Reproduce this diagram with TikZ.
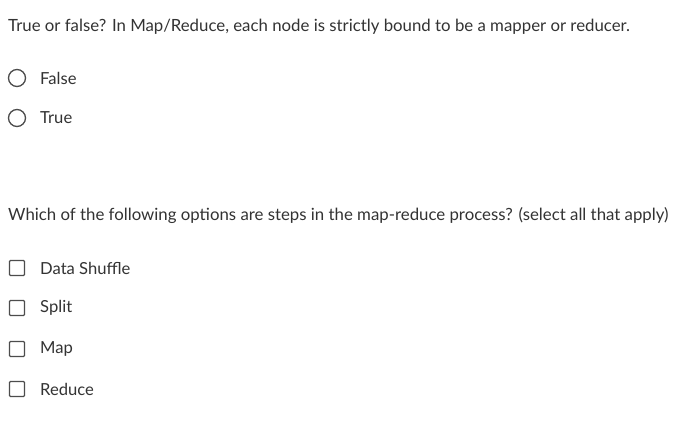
\documentclass[tikz,border=0pt]{standalone}
\usepackage{fontspec}
\setmainfont{Lato}
\begin{document}
\begin{tikzpicture}[x=1pt,y=-1pt,
  txt/.style={anchor=west,inner sep=0pt,text=black!80,font=\fontsize{16.8}{18}\selectfont},
  opt/.style={anchor=west,inner sep=0pt,text=black!80,font=\fontsize{16.6}{18}\selectfont},
  radio/.style={circle,draw=black!70,line width=1.3pt,minimum size=17pt,inner sep=0pt},
  cbox/.style={rectangle,rounded corners=1pt,draw=black!70,line width=1.3pt,minimum size=15pt,inner sep=0pt}]
\useasboundingbox[fill=white] (0,0) rectangle (688,421);
\node[txt] (q1) at (8,27) {True or false? In Map/Reduce, each node is strictly bound to be a mapper or reducer.};
\node[radio] (r1) at (17,78) {};
\node[opt] (o1) at (40,78) {False};
\node[radio] (r2) at (17,118) {};
\node[opt] (o2) at (40,118) {True};
\node[txt] (q2) at (8,216) {Which of the following options are steps in the map-reduce process? (select all that apply)};
\node[cbox] (c1) at (17,268) {};
\node[opt] (p1) at (40,268) {Data Shuffle};
\node[cbox] (c2) at (17,308) {};
\node[opt] (p2) at (40,308) {Split};
\node[cbox] (c3) at (17,349) {};
\node[opt] (p3) at (40,349) {Map};
\node[cbox] (c4) at (17,389) {};
\node[opt] (p4) at (40,389) {Reduce};
\end{tikzpicture}
\end{document}
